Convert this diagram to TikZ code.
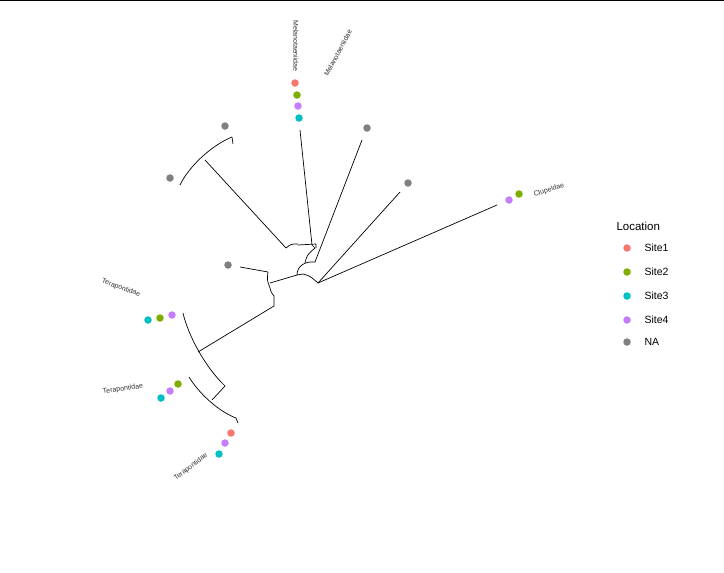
\documentclass[tikz,border=0pt]{standalone}
\usepackage{fontspec}
\setmainfont{Liberation Sans}
\begin{document}
\begin{tikzpicture}[x=1pt,y=-1pt,
  br/.style={black,line width=0.7pt},
  tip/.style={circle,inner sep=0pt,minimum size=7.5pt},
  s1/.style={tip,fill={rgb,255:red,248;green,118;blue,109}},
  s2/.style={tip,fill={rgb,255:red,124;green,174;blue,0}},
  s3/.style={tip,fill={rgb,255:red,0;green,191;blue,196}},
  s4/.style={tip,fill={rgb,255:red,199;green,124;blue,255}},
  na/.style={tip,fill=gray},
  lab/.style={font=\fontsize{7}{8}\selectfont,text=black!80,inner sep=0pt},
  leg/.style={font=\fontsize{10.5}{12}\selectfont,anchor=west}]
\useasboundingbox (0,0) rectangle (724,573);
\draw[line width=0.6pt] (0,0.5) -- (724,0.5);
% tips
\node[s2] (c2) at (519,194) {}; \node[s4] (c4) at (509,200) {};
\node[lab,rotate=18] (cl) at (549,190) {Clupeidae};
\node[na] (g1) at (408,183) {};
\node[na] (g2) at (367,128) {};
\node[s1] (m1) at (295,83) {}; \node[s2] (m2) at (297,95) {};
\node[s4] (m4) at (298,106) {}; \node[s3] (m3) at (299,118) {};
\node[lab,rotate=-90] (ml1) at (296,46) {Melanotaeniidae};
\node[lab,rotate=62] (ml2) at (338,53) {Melanotaeniidae};
\node[na] (g3) at (225,126) {}; \node[na] (g4) at (170,178) {};
\node[na] (g5) at (228,265) {};
\node[s4] (t14) at (172,315) {}; \node[s2] (t12) at (160,318) {}; \node[s3] (t13) at (148,320) {};
\node[lab,rotate=-20] (tl1) at (121,288) {Terapontidae};
\node[s2] (t22) at (178,384) {}; \node[s4] (t24) at (170,391) {}; \node[s3] (t23) at (161,398) {};
\node[lab,rotate=8] (tl2) at (123,389) {Terapontidae};
\node[s1] (t31) at (231,433) {}; \node[s4] (t34) at (225,443) {}; \node[s3] (t33) at (219,454) {};
\node[lab,rotate=38] (tl3) at (191,467) {Terapontidae};
% coordinates
\coordinate (root) at (318,283);
% branches
\draw[br] (root) -- (497,205);
\draw[br] (root) -- (400,192);
\draw[br] (root) .. controls (310,276) .. (303,274) -- (297,275) .. controls (297,266) and (305,261) .. (315,262) -- (362,140);
\draw[br] (305,263) .. controls (307,255) .. (315,248) -- (312,245) -- (300,130);
\draw[br] (297,275) -- (270,283);
\draw[br] (268,272) .. controls (267,280) .. (270,288) .. controls (271,292) .. (274,296);
\draw[br] (240,267) -- (268,272);
\draw[br] (298,245) -- (316,244) -- (316,248);
\draw[br] (286,248) .. controls (291,244) .. (298,244);
\draw[br] (286,248) -- (205,160);
\draw[br] (180,185) .. controls (188,168) and (210,146) .. (232,137);
\draw[br] (232,137) -- (233,144);
\draw[br] (274,296) -- (274,306) -- (198,352);
\draw[br] (183,313) .. controls (188,335) and (205,367) .. (225,386);
\draw[br] (225,386) -- (212,400);
\draw[br] (189,377) .. controls (200,395) and (220,412) .. (236,418) -- (238,423);
% legend
\node[font=\fontsize{11.5}{13}\selectfont,anchor=west] (lt) at (613,226) {Location};
\node[s1] (l1) at (627,248) {}; \node[leg] at (641,248) {Site1};
\node[s2] (l2) at (627,272) {}; \node[leg] at (641,272) {Site2};
\node[s3] (l3) at (627,296) {}; \node[leg] at (641,296) {Site3};
\node[s4] (l4) at (627,320) {}; \node[leg] at (641,320) {Site4};
\node[na] (l5) at (627,342) {}; \node[leg] at (641,342) {NA};
\end{tikzpicture}
\end{document}
